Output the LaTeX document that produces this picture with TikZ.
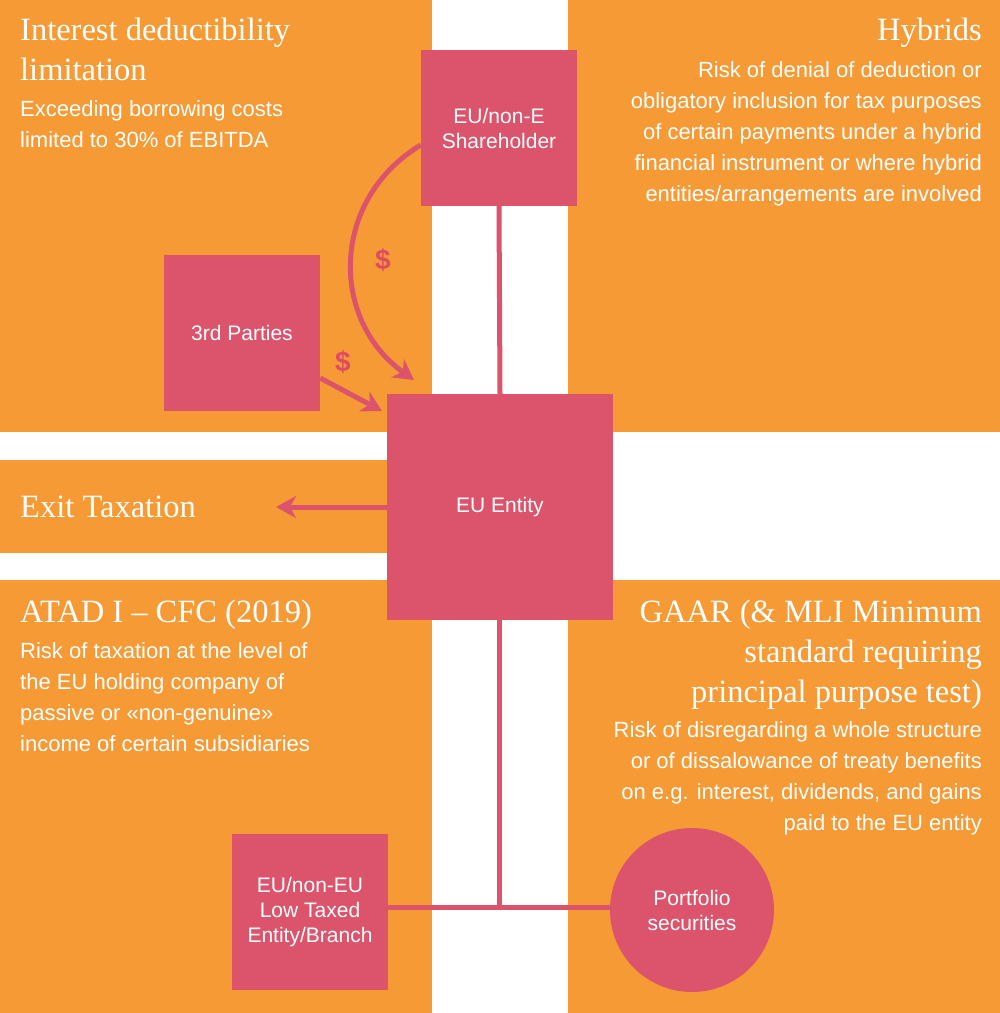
\documentclass[tikz,border=0pt]{standalone}
\usepackage{fontspec}
\setmainfont{Liberation Sans}
\newfontfamily\serifttl{Liberation Serif}
\usetikzlibrary{arrows.meta}
\definecolor{org}{HTML}{F69A36}
\definecolor{pnk}{HTML}{DB546C}
\tikzset{
 area/.style={fill=org,draw=none},
 pbox/.style={fill=pnk,draw=none,text=white,align=center,font=\fontsize{21}{25}\selectfont,inner sep=0},
 ttl/.style={font=\serifttl\fontsize{32.5}{40}\selectfont,text=white,inner sep=0},
 body/.style={font=\fontsize{22}{31}\selectfont,text=white,inner sep=0},
 link/.style={draw=pnk,line width=5pt},
 arr/.style={draw=pnk,line width=5pt,-{Stealth[length=20pt,width=22pt,inset=6pt]}},
 dollar/.style={text=pnk!90!red,font=\bfseries\fontsize{28}{28}\selectfont,inner sep=0}
}
\begin{document}
\begin{tikzpicture}[x=1pt,y=-1pt]
\useasboundingbox (0,0) rectangle (1000,1013);
\fill[white] (0,0) rectangle (1000,1013);
\fill[area] (0,0) rectangle (432,432);
\fill[area] (568,0) rectangle (1000,432);
\fill[area] (0,460) rectangle (432,553);
\fill[area] (0,580) rectangle (432,1013);
\fill[area] (568,580) rectangle (1000,1013);
% texts
\node[ttl,anchor=north west,align=left] (t1) at (20,18) {Interest deductibility\\limitation};
\node[body,anchor=north west,align=left] (b1) at (20,100) {Exceeding borrowing costs\\limited to 30\% of EBITDA};
\node[ttl,anchor=north east,align=right] (t2) at (982,18) {Hybrids};
\node[body,anchor=north east,align=right] (b2) at (982,61) {Risk of denial of deduction or\\obligatory inclusion for tax purposes\\of certain payments under a hybrid\\financial instrument or where hybrid\\entities/arrangements are involved};
\node[ttl,anchor=west] (t3) at (20,507) {Exit Taxation};
\node[ttl,anchor=north west,align=left] (t4) at (20,600) {ATAD I – CFC (2019)};
\node[body,anchor=north west,align=left] (b4) at (20,642) {Risk of taxation at the level of\\the EU holding company of\\passive or «non-genuine»\\income of certain subsidiaries};
\node[ttl,anchor=north east,align=right] (t5) at (982,600) {GAAR (\& MLI Minimum\\standard requiring\\principal purpose test)};
\node[body,anchor=north east,align=right] (b5) at (982,721) {Risk of disregarding a whole structure\\or of dissalowance of treaty benefits\\on e.g. interest, dividends, and gains\\paid to the EU entity};
% nodes
\node[pbox,minimum width=156pt,minimum height=156pt] (sh) at (499,128) {EU/non-E\\Shareholder};
\node[pbox,minimum width=156pt,minimum height=156pt] (tp) at (242,333) {3rd Parties};
\node[pbox,minimum width=226pt,minimum height=226pt] (eu) at (500,507) {EU Entity};
\node[pbox,minimum width=156pt,minimum height=156pt] (lt) at (310,912) {EU/non-EU\\Low Taxed\\Entity/Branch};
\node[pbox,circle,minimum size=164pt] (pf) at (692,910) {Portfolio\\securities};
\coordinate (j) at (499,907);
\draw[link] (sh.south) -- (eu.north);
\draw[link] (eu.south -| j) -- (j);
\draw[link] (lt.east |- j) -- (j) -- (pf.west |- j);
\draw[arr] (sh.west |- 0,145) .. controls (330,200) and (330,320) .. (414,380);
\draw[arr] (tp.east |- 0,378) -- (382,411);
\draw[arr] (eu.west |- 0,507) -- (276,507);
\node[dollar] (d1) at (383,260) {\$};
\node[dollar] (d2) at (343,362) {\$};
\end{tikzpicture}
\end{document}
